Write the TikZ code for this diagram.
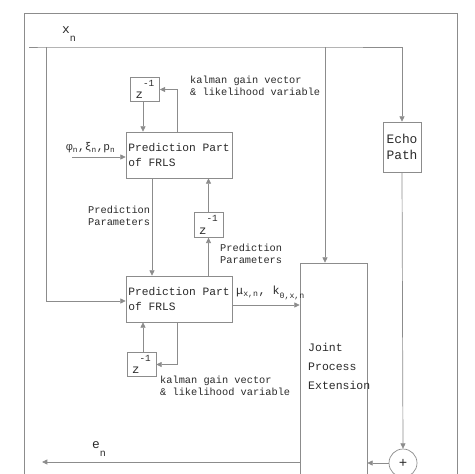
\documentclass[tikz,border=0pt]{standalone}
\usepackage{fontspec}
\setmainfont{Liberation Mono}
\usepackage{tikz}
\usetikzlibrary{positioning,arrows.meta,calc}
\definecolor{ink}  {HTML}{2A2A2A}
\definecolor{wire} {HTML}{8C8C8C}
\newcommand{\lo}[1]{\textsubscript{#1}}
\newcommand{\zinv}{\raisebox{-1.0ex}{\fontsize{10.5}{11}\selectfont z}\raisebox{1.0ex}{\fontsize{8}{9}\selectfont -1}}
\tikzset{
  blk/.style   = {draw=wire, line width=0.6pt, text=ink, align=left,
                  font=\fontsize{9.6}{12}\selectfont, inner sep=2pt},
  dly/.style   = {draw=wire, line width=0.6pt, text=ink,
                  minimum width=0.87cm, minimum height=0.74cm,
                  inner sep=0pt},
  wire/.style  = {draw=wire, line width=0.6pt},
  flow/.style  = {-{Triangle[length=1.6mm,width=1.5mm]}, draw=wire,
                  line width=0.6pt},
  lbl/.style   = {font=\fontsize{8.8}{10}\selectfont, text=ink, align=left,
                  inner sep=0pt},
}

\begin{document}
\begin{tikzpicture}[x=0.03cm, y=-0.03cm]
  \useasboundingbox (0,0) rectangle (474,474);
  \clip (0,0) rectangle (474,474);
  % outer frame
  \draw[wire] (24,13.5) rectangle (457,500);

  % blocks
  \node[blk, minimum width=3.18cm, minimum height=1.38cm] (frlsA) at (179,155)
    {Prediction Part\\of FRLS};
  \node[blk, minimum width=3.18cm, minimum height=1.38cm] (frlsB) at (179,299)
    {Prediction Part\\of FRLS};
  \node[dly] (zA) at (145,89.5) {\zinv};
  \node[dly] (zB) at (208.5,225) {\zinv};
  \node[dly] (zC) at (141.5,364.5) {\zinv};
  \node[blk, minimum width=1.14cm, minimum height=1.5cm,
        font=\fontsize{11}{13}\selectfont] (echo) at (402,147) {Echo\\Path};
  \node[blk, minimum width=2.01cm, minimum height=7.2cm] (jpe) at (333.5,383) {};
  \node[circle, draw=wire, line width=0.6pt, minimum size=0.84cm, inner sep=0pt,
        text=ink, font=\fontsize{12}{12}\selectfont] (adder) at (403,463) {+};

  % connection points
  \coordinate (xin) at (29,47);
  \coordinate (tapL) at (46,47);
  \coordinate (tapR) at (325,47);
  \coordinate (phi) at (72,157);
  \coordinate (fbA) at (177,89);
  \coordinate (fbC) at (177,364);
  \coordinate (eout) at (42,462);

  % reference signal
  \draw[wire] (xin) -- (tapL) -- (tapR) -- (echo.north |- tapR);
  \draw[flow] (echo.north |- tapR) -- (echo.north);
  \draw[flow] (tapL) |- (frlsB.west |- 0,301);
  \draw[flow] (tapR) -- (tapR |- jpe.north);
  \draw[flow] (phi) -- (phi -| frlsA.west);

  % upper loop
  \draw[flow] (zA.south -| 143,0) -- (frlsA.north -| 143,0);
  \draw[flow] (frlsA.north -| fbA) |- (zA.east);
  \draw[flow] (frlsA.south -| 152,0) -- (frlsB.north -| 152,0);
  \draw[flow] (frlsB.north -| zB) -- (zB.south);
  \draw[flow] (zB.north) -- (frlsA.south -| zB);

  % lower loop
  \draw[flow] (zC.north -| 143,0) -- (frlsB.south -| 143,0);
  \draw[flow] (frlsB.south -| fbC) |- (zC.east);

  % outputs
  \draw[flow] (frlsB.east |- 0,305) -- (jpe.west |- 0,305);
  \draw[flow] (jpe.west |- eout) -- (eout);
  \draw[flow] (echo.south) -- (adder.north);
  \draw[flow] (adder.west) -- (jpe.east |- adder.west);

  % labels
  \node[lbl, font=\fontsize{11}{12}\selectfont] (xlab) at (69,34) {x\raisebox{-1.1ex}{\fontsize{8.5}{9}\selectfont n}};
  \node[lbl, anchor=west] (kalA) at (190,86)
    {kalman gain vector\\\& likelihood variable};
  \node[lbl, anchor=west] (kalC) at (160,386)
    {kalman gain vector\\\& likelihood variable};
  \node[lbl, anchor=west] (ppA) at (88,216) {Prediction\\Parameters};
  \node[lbl, anchor=west] (ppB) at (220,254) {Prediction\\Parameters};
  \node[lbl, anchor=west, font=\fontsize{9.5}{10}\selectfont] (philab) at (66,148)
    {φ\lo{n},ξ\lo{n},p\lo{n}};
  \node[lbl, anchor=west, font=\fontsize{10}{11}\selectfont] (mulab) at (236,293)
    {μ\lo{x,n}, k\raisebox{-0.3ex}{\lo{0,x,n}}};
  \node[lbl, anchor=north west, font=\fontsize{9.8}{16}\selectfont] (jlab) at (308,343)
    {Joint\\Process\\Extension};
  \node[lbl, font=\fontsize{11}{12}\selectfont] (elab) at (99,449) {e\raisebox{-1.1ex}{\fontsize{8.5}{9}\selectfont n}};
\end{tikzpicture}
\end{document}
